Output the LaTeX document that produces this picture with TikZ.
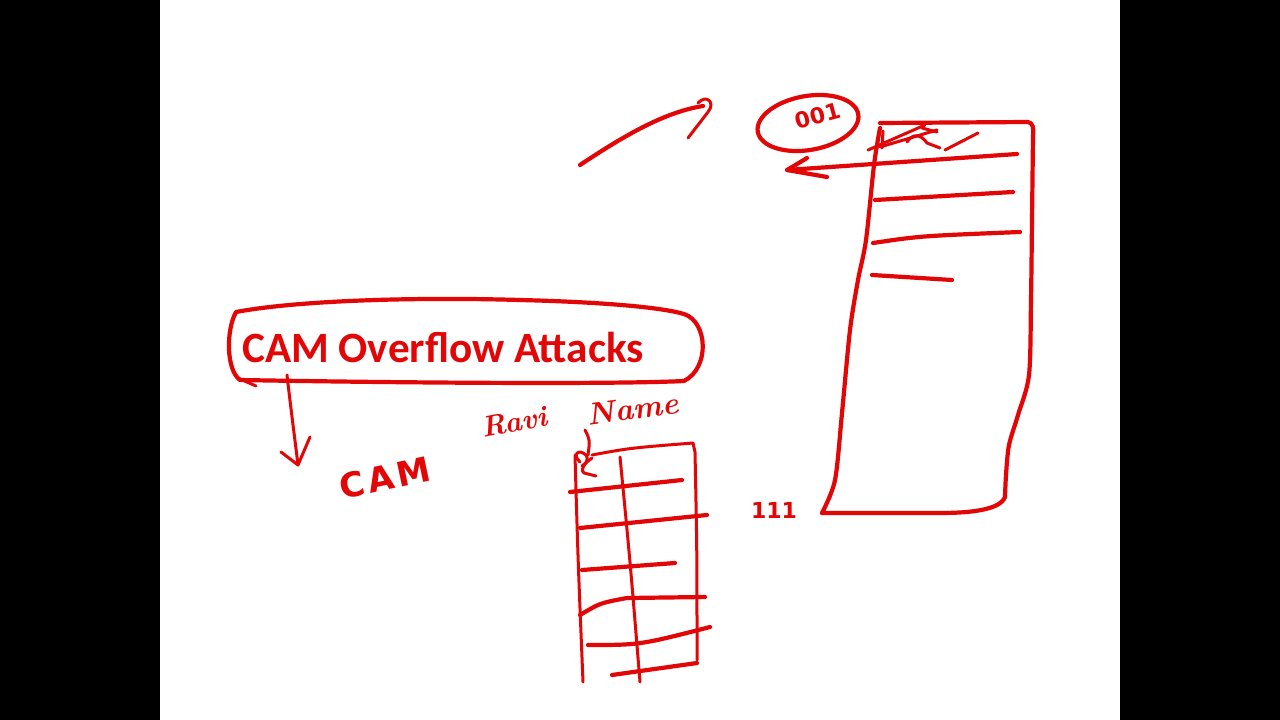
\documentclass[tikz,border=0pt]{standalone}
\usepackage{fontspec}
\newfontfamily\titlefont{Carlito}
\newfontfamily\handfont{DejaVu Sans}
\definecolor{inkred}{RGB}{226,6,6}
\tikzset{
  pen/.style={draw=inkred, line width=4.2pt, line cap=round, line join=round},
  thinpen/.style={draw=inkred, line width=3pt, line cap=round, line join=round},
  hand/.style={text=inkred, inner sep=0pt},
}
\begin{document}
\begin{tikzpicture}[x=1pt,y=-1pt]
\fill[black] (0,0) rectangle (1280,720);
\fill[white] (160,0) rectangle (1120,720);
\useasboundingbox (0,0) rectangle (1280,720);

% ---- title box
\draw[pen] (236,312) .. controls (300,300) and (420,297) .. (520,300)
  .. controls (600,302) and (660,307) .. (684,314)
  .. controls (708,322) and (710,368) .. (684,381)
  .. controls (600,385) and (350,382) .. (240,380)
  .. controls (226,370) and (226,330) .. (236,312) -- cycle;
\draw[thinpen] (238,378) -- (256,386);
\node[anchor=base west, inner sep=0pt, text=inkred,
  font=\titlefont\bfseries\fontsize{43.2}{50}\selectfont] (title) at (242,362) {CAM Overflow Attacks};

% ---- arrow down to CAM
\coordinate (downstart) at (287,375);
\coordinate (downtip) at (298,465);
\draw[thinpen] (downstart) .. controls (291,410) and (295,440) .. (downtip);
\draw[thinpen] (281,452) -- (downtip) -- (310,437);
\node[hand, font=\handfont\bfseries\fontsize{34}{38}\selectfont, rotate=12] (cam) at (385,478) {C\hspace{4pt}A\hspace{3pt}M};

% ---- labels
\node[hand, font=\bfseries\itshape\fontsize{29}{32}\selectfont, rotate=11] (ravi) at (514,422) {Ravi};
\node[hand, font=\bfseries\itshape\fontsize{31}{34}\selectfont, rotate=8] (name) at (633,409) {Name};

% ---- upper curved arrow
\coordinate (cstart) at (580,165);
\coordinate (ctip) at (703,106);
\draw[pen] (cstart) .. controls (625,135) and (665,112) .. (ctip);
\draw[thinpen] (698,103) .. controls (706,94) and (716,102) .. (708,112) -- (688,138);

% ---- ellipse with 001
\draw[pen, rotate around={10:(808,123)}] (808,123) ellipse [x radius=51, y radius=27];
\node[hand, font=\handfont\bfseries\fontsize{22}{24}\selectfont, rotate=15] (addr) at (818,116) {001};

% ---- tall table
\draw[pen] (880,123) -- (1028,122) .. controls (1033,123) and (1034,128) .. (1033,136);
\draw[pen] plot[smooth] coordinates {(1033,136) (1032,220) (1031,300) (1029,375) (1018,415) (1009,445) (1006,475) (1005,497)};
\draw[pen] (1005,497) .. controls (1000,510) and (970,513) .. (940,513) -- (822,513);
\draw[pen] plot[smooth] coordinates {(822,513) (835,480) (842,413) (850,330) (858,280) (866,240) (874,165) (880,128)};
\draw[pen] (875,200) -- (1013,192);
\draw[pen] (873,243) .. controls (920,236) .. (1020,232);
\draw[pen] (872,275) -- (952,280);
% arrow out of table to ellipse
\coordinate (aright) at (1017,154);
\coordinate (atip) at (787,170);
\draw[pen] (aright) -- (atip);
\draw[pen] (807,158) -- (atip) -- (827,177);
% scribbles
\draw[thinpen] (868,150) -- (925,125);
\draw[thinpen] (880,147) -- (937,130);
\draw[thinpen] (883,131) -- (882,148);
\draw[thinpen] (907,142) .. controls (912,134) and (920,133) .. (927,143) -- (940,148);
\draw[thinpen] (922,128) -- (937,132);
\draw[thinpen] (945,150) -- (978,133);
\node[hand, font=\handfont\bfseries\fontsize{22}{24}\selectfont] (dots) at (774,510) {111};

% ---- small table
\draw[thinpen] (592,455) .. controls (630,448) .. (693,443) -- (695,452) .. controls (697,550) .. (697,660);
\draw[thinpen] (575,455) .. controls (578,560) .. (583,682);
\draw[thinpen] (620,457) .. controls (630,560) .. (640,682);
\draw[pen] (570,492) -- (682,480);
\draw[pen] (580,528) -- (707,515);
\draw[pen] (582,570) -- (675,563);
\draw[pen] (580,615) .. controls (600,603) .. (627,598) -- (705,597);
\draw[pen] (588,645) .. controls (640,645) .. (710,627);
\draw[pen] (612,675) -- (697,663);
% pointer from Name
\draw[thinpen] (585,430) .. controls (590,440) .. (588,455);
\draw[thinpen] (580,462) .. controls (572,455) and (578,448) .. (586,455)
  .. controls (591,462) and (578,468) .. (584,473) -- (596,476);
\draw[thinpen] (582,466) -- (592,458);
\end{tikzpicture}
\end{document}
